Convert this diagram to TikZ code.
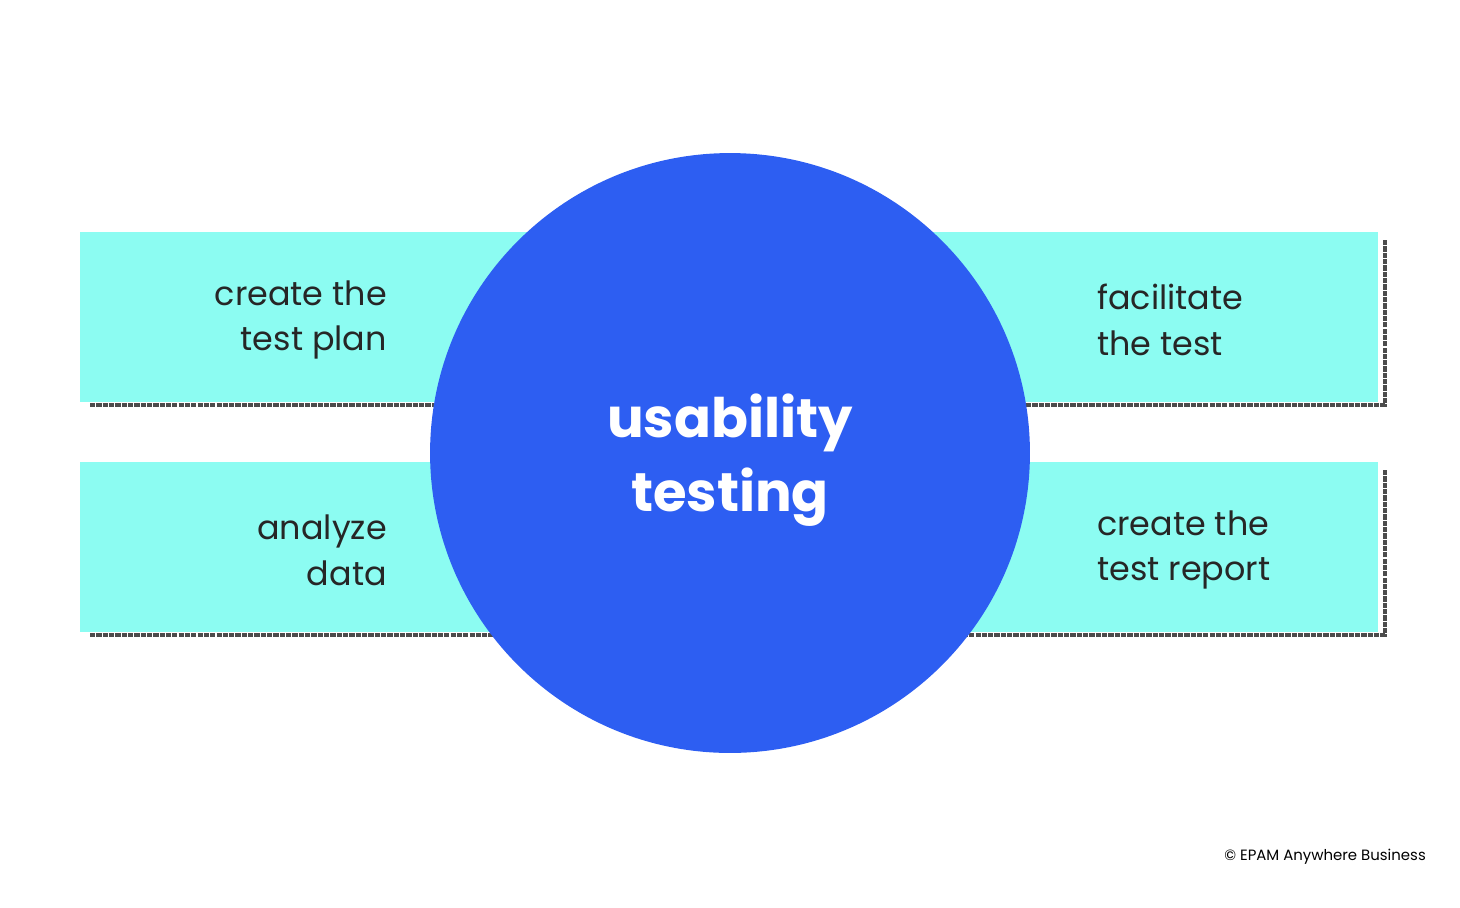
\documentclass[tikz,border=0pt]{standalone}
\usepackage{fontspec}
\setmainfont{Poppins}
\usetikzlibrary{positioning}
\definecolor{boxcyan}{HTML}{8CFCF2}
\definecolor{circblue}{HTML}{2D5EF2}
\begin{document}
\begin{tikzpicture}[x=0.02cm,y=-0.02cm,
  band/.style={fill=boxcyan,draw=none},
  rim/.style={draw=black!70,line width=1.8pt,dash pattern=on 3pt off 0.6pt},
  steptext/.style={font=\fontsize{19}{26}\selectfont,text=black!85}]
% bounding box
\path[use as bounding box] (0,0) rectangle (1460,907);

% bands with shadow rims
\draw[rim] (90,405) -- (1385,405) -- (1385,240);
\draw[rim] (90,635) -- (1385,635) -- (1385,470);
\fill[band] (80,232) rectangle (1378,402);
\fill[band] (80,462) rectangle (1378,632);

% circle
\node (hub) [circle,fill=circblue,minimum size=12cm,inner sep=0pt] at (730,453) {};
\node (hubtext) [align=center,text=white,font=\fontsize{31}{42}\selectfont\bfseries] at (730,460) {usability\\testing};

% steps
\node (plan) [steptext,align=right,anchor=east] at (393,320) {create the\\test plan};
\node (analyze) [steptext,align=right,anchor=east] at (393,550) {analyze\\data};
\node (facilitate) [steptext,align=left,anchor=west] at (1091,320) {facilitate\\the test};
\node (report) [steptext,align=left,anchor=west] at (1091,550) {create the\\test report};

% credit
\node (credit) [anchor=east,font=\fontsize{8.5}{10}\selectfont] at (1432,857) {© EPAM Anywhere Business};
\end{tikzpicture}
\end{document}
